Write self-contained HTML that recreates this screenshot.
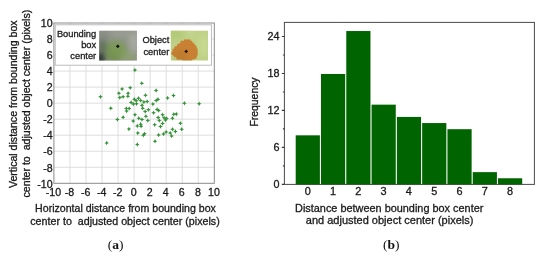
<!DOCTYPE html><html><head><meta charset="utf-8"><title>Figure</title><style>html,body{margin:0;padding:0;background:#fff}svg{display:block}text{font-family:"Liberation Sans",Arial,sans-serif;fill:#1a1a1a;stroke:#1a1a1a;stroke-width:0.3px}.s{font-family:"Liberation Serif","Times New Roman",serif;fill:#111;stroke:none}</style></head><body>
<svg width="550" height="257" viewBox="0 0 550 257">
<defs><filter id="bl" x="-20%" y="-20%" width="140%" height="140%"><feGaussianBlur stdDeviation="3"/></filter><filter id="bl2" x="-50%" y="-50%" width="200%" height="200%"><feGaussianBlur stdDeviation="2.2"/></filter><clipPath id="c1"><rect x="99.2" y="30.8" width="37.7" height="29.7"/></clipPath><clipPath id="c2"><rect x="170.8" y="30.8" width="37.2" height="29.8"/></clipPath>
<path id="m" d="M0,-2.3 L0.75,-0.75 L2.3,0 L0.75,0.75 L0,2.3 L-0.75,0.75 L-2.3,0 L-0.75,-0.75Z"/></defs>
<rect width="550" height="257" fill="#fff"/>
<path d="M69.94,23.0V183.3 M53.9,39.03H214.3 M85.98,23.0V183.3 M53.9,55.06H214.3 M102.02,23.0V183.3 M53.9,71.09H214.3 M118.06,23.0V183.3 M53.9,87.12H214.3 M134.10,23.0V183.3 M53.9,103.15H214.3 M150.14,23.0V183.3 M53.9,119.18H214.3 M166.18,23.0V183.3 M53.9,135.21H214.3 M182.22,23.0V183.3 M53.9,151.24H214.3 M198.26,23.0V183.3 M53.9,167.27H214.3" stroke="#d6d6d6" stroke-width="0.8" fill="none"/>
<rect x="53.9" y="23.0" width="160.40" height="160.30" fill="none" stroke="#8a8a8a" stroke-width="1"/>
<rect x="55.2" y="24.8" width="156.2" height="40.4" fill="#fff" stroke="#b4b4b4" stroke-width="0.9"/>
<g fill="#359239">
<use href="#m" x="134.9" y="70.1"/>
<use href="#m" x="141.8" y="83.3"/>
<use href="#m" x="130.2" y="87.7"/>
<use href="#m" x="122.1" y="89.0"/>
<use href="#m" x="156.1" y="90.4"/>
<use href="#m" x="118.9" y="93.3"/>
<use href="#m" x="128.1" y="93.3"/>
<use href="#m" x="145.5" y="95.2"/>
<use href="#m" x="100.5" y="96.7"/>
<use href="#m" x="119.8" y="97.6"/>
<use href="#m" x="123.1" y="96.7"/>
<use href="#m" x="127.9" y="96.3"/>
<use href="#m" x="134.3" y="99.3"/>
<use href="#m" x="138.5" y="98.3"/>
<use href="#m" x="140.7" y="100.5"/>
<use href="#m" x="136.2" y="100.8"/>
<use href="#m" x="131.1" y="102.4"/>
<use href="#m" x="133.4" y="104.1"/>
<use href="#m" x="136.5" y="103.7"/>
<use href="#m" x="143.9" y="102.1"/>
<use href="#m" x="147.2" y="101.5"/>
<use href="#m" x="156.2" y="100.5"/>
<use href="#m" x="158.0" y="99.3"/>
<use href="#m" x="152.9" y="104.1"/>
<use href="#m" x="142.0" y="105.3"/>
<use href="#m" x="110.8" y="108.2"/>
<use href="#m" x="126.3" y="108.5"/>
<use href="#m" x="129.2" y="108.5"/>
<use href="#m" x="126.6" y="111.1"/>
<use href="#m" x="142.7" y="108.3"/>
<use href="#m" x="148.4" y="109.8"/>
<use href="#m" x="145.2" y="111.5"/>
<use href="#m" x="157.1" y="109.4"/>
<use href="#m" x="158.7" y="110.5"/>
<use href="#m" x="153.6" y="112.7"/>
<use href="#m" x="135.0" y="114.7"/>
<use href="#m" x="123.1" y="117.2"/>
<use href="#m" x="145.9" y="116.3"/>
<use href="#m" x="138.8" y="118.2"/>
<use href="#m" x="117.4" y="119.5"/>
<use href="#m" x="142.0" y="119.5"/>
<use href="#m" x="147.8" y="120.5"/>
<use href="#m" x="133.2" y="121.1"/>
<use href="#m" x="158.1" y="117.5"/>
<use href="#m" x="159.3" y="120.5"/>
<use href="#m" x="140.7" y="124.3"/>
<use href="#m" x="137.3" y="125.9"/>
<use href="#m" x="141.1" y="126.3"/>
<use href="#m" x="154.7" y="124.7"/>
<use href="#m" x="128.9" y="129.1"/>
<use href="#m" x="137.8" y="133.1"/>
<use href="#m" x="144.6" y="133.7"/>
<use href="#m" x="143.3" y="135.3"/>
<use href="#m" x="158.6" y="135.0"/>
<use href="#m" x="106.7" y="143.0"/>
<use href="#m" x="137.3" y="144.5"/>
<use href="#m" x="155.0" y="141.3"/>
<use href="#m" x="173.5" y="95.5"/>
<use href="#m" x="167.6" y="98.0"/>
<use href="#m" x="184.4" y="103.2"/>
<use href="#m" x="199.2" y="103.7"/>
<use href="#m" x="162.6" y="114.7"/>
<use href="#m" x="173.8" y="114.3"/>
<use href="#m" x="176.3" y="114.1"/>
<use href="#m" x="164.1" y="117.8"/>
<use href="#m" x="166.7" y="118.4"/>
<use href="#m" x="172.5" y="118.2"/>
<use href="#m" x="165.4" y="120.0"/>
<use href="#m" x="180.4" y="123.3"/>
<use href="#m" x="162.6" y="123.4"/>
<use href="#m" x="160.5" y="126.5"/>
<use href="#m" x="172.5" y="129.2"/>
<use href="#m" x="181.7" y="129.2"/>
<use href="#m" x="175.4" y="131.4"/>
<use href="#m" x="166.1" y="132.1"/>
<use href="#m" x="170.2" y="133.0"/>
<use href="#m" x="163.5" y="134.0"/>
<use href="#m" x="171.6" y="135.9"/>
</g>
<g clip-path="url(#c1)"><rect x="95" y="27" width="46" height="38" fill="#8f9389"/><g filter="url(#bl)"><ellipse cx="116" cy="49.5" rx="11" ry="9" fill="#7b9957"/><ellipse cx="113" cy="58" rx="9" ry="4" fill="#6f8f4c"/><ellipse cx="128" cy="57" rx="8" ry="4" fill="#8ca26b"/><ellipse cx="102" cy="47" rx="5" ry="8" fill="#5f6d5a"/><ellipse cx="134" cy="42" rx="5" ry="11" fill="#a8aba2"/><ellipse cx="120" cy="33" rx="11" ry="3" fill="#9ea199"/><ellipse cx="104" cy="35" rx="5" ry="4" fill="#858a82"/></g><g filter="url(#bl2)"><ellipse cx="100.5" cy="58.5" rx="4.5" ry="6" fill="#323e38"/></g></g>
<path d="M117.8,44.8 L118.3,45.8 L119.3,46.3 L118.3,46.8 L117.8,47.8 L117.3,46.8 L116.3,46.3 L117.3,45.8Z" fill="#0a0a0a" stroke="#0a0a0a" stroke-width="0.9" stroke-linejoin="round"/>
<g clip-path="url(#c2)"><rect x="168" y="28" width="44" height="36" fill="#bed086"/><g filter="url(#bl)"><ellipse cx="176" cy="33" rx="9" ry="7" fill="#b2c978"/><ellipse cx="204" cy="45" rx="5" ry="12" fill="#c8d990"/><ellipse cx="190" cy="33" rx="6" ry="3" fill="#c6d894"/></g><g fill="#c98033"><rect x="183.97" y="39.45" width="6.54" height="2.01"/><rect x="180.71" y="40.75" width="11.44" height="2.44"/><rect x="179.62" y="42.50" width="14.16" height="2.01"/><rect x="177.44" y="43.80" width="17.10" height="1.79"/><rect x="176.89" y="44.89" width="19.06" height="2.01"/><rect x="174.71" y="46.20" width="21.79" height="2.12"/><rect x="174.17" y="47.62" width="22.88" height="1.79"/><rect x="172.54" y="48.71" width="25.05" height="3.42"/><rect x="171.99" y="51.43" width="25.60" height="3.42"/><rect x="171.23" y="52.30" width="1.31" height="2.23"/><rect x="173.08" y="54.15" width="24.29" height="1.79"/><rect x="174.17" y="55.24" width="22.88" height="1.79"/><rect x="176.35" y="56.33" width="20.15" height="2.55"/><rect x="176.89" y="58.18" width="17.65" height="1.35"/><rect x="182.34" y="58.84" width="9.80" height="2.01"/></g><g filter="url(#bl)" opacity="0.55"><ellipse cx="181" cy="56" rx="6" ry="4" fill="#a9742a"/></g></g>
<path d="M186.2,49.7 L186.7,50.9 L187.9,51.4 L186.7,51.9 L186.2,53.1 L185.7,51.9 L184.5,51.4 L185.7,50.9Z" fill="#0a0a0a" stroke="#0a0a0a" stroke-width="0.5"/>
<g font-size="9.3" text-anchor="end"><text x="96.2" y="37">Bounding</text><text x="96.2" y="47.9">box</text><text x="96.2" y="58.7">center</text><text x="169.3" y="43.2">Object</text><text x="169.3" y="54.7">center</text></g>
<g font-size="10.6" text-anchor="end">
<text x="52.6" y="27.2">10</text>
<text x="52.6" y="43.2">8</text>
<text x="52.6" y="59.3">6</text>
<text x="52.6" y="75.3">4</text>
<text x="52.6" y="91.3">2</text>
<text x="52.6" y="107.4">0</text>
<text x="52.6" y="123.4">-2</text>
<text x="52.6" y="139.4">-4</text>
<text x="52.6" y="155.4">-6</text>
<text x="52.6" y="171.5">-8</text>
<text x="52.6" y="187.5">-10</text>
</g><g font-size="10.6" text-anchor="middle">
<text x="53.5" y="195.7">-10</text>
<text x="69.5" y="195.7">-8</text>
<text x="85.6" y="195.7">-6</text>
<text x="101.6" y="195.7">-4</text>
<text x="117.7" y="195.7">-2</text>
<text x="133.7" y="195.7">0</text>
<text x="149.7" y="195.7">2</text>
<text x="165.8" y="195.7">4</text>
<text x="181.8" y="195.7">6</text>
<text x="197.9" y="195.7">8</text>
<text x="213.9" y="195.7">10</text>
</g>
<g font-size="10.6" text-anchor="middle"><text x="125.5" y="211.9">Horizontal distance from bounding box</text><text x="125" y="224.7" font-size="10.7" xml:space="preserve">center to  adjusted object center (pixels)</text>
<text transform="translate(16.6,104.2) rotate(-90) scale(1,1.1)">Vertical distance from bounding box</text><text transform="translate(29.8,103.6) rotate(-90) scale(1,1.1)" xml:space="preserve">center to  adjusted object center (pixels)</text></g>
<text class="s" x="115.7" y="249" font-size="13.5" text-anchor="middle">(<tspan font-weight="bold">a</tspan>)</text>
<rect x="284.4" y="22.4" width="250.00" height="162.00" fill="#fff" stroke="#4a4a4a" stroke-width="1"/>
<g fill="#006400">
<rect x="295.70" y="135.32" width="24.19" height="49.08"/>
<rect x="320.99" y="73.97" width="24.19" height="110.43"/>
<rect x="346.28" y="31.03" width="24.19" height="153.38"/>
<rect x="371.57" y="104.65" width="24.19" height="79.75"/>
<rect x="396.86" y="116.92" width="24.19" height="67.48"/>
<rect x="422.15" y="123.05" width="24.19" height="61.35"/>
<rect x="447.44" y="129.19" width="24.19" height="55.21"/>
<rect x="472.73" y="172.13" width="24.19" height="12.27"/>
<rect x="498.02" y="178.27" width="24.19" height="6.13"/>
</g>
<path d="M284.4,184.40h-2.6 M284.4,165.91h-1.5 M284.4,147.41h-2.6 M284.4,128.92h-1.5 M284.4,110.42h-2.6 M284.4,91.93h-1.5 M284.4,73.43h-2.6 M284.4,54.94h-1.5 M284.4,36.44h-2.6" stroke="#3a3a3a" stroke-width="1.1" fill="none"/>
<g font-size="10.8" text-anchor="end">
<text x="279.6" y="188.1">0</text>
<text x="279.6" y="151.1">6</text>
<text x="279.6" y="114.1">12</text>
<text x="279.6" y="77.1">18</text>
<text x="279.6" y="40.1">24</text>
</g><g font-size="10.9" text-anchor="middle">
<text x="307.7" y="194.7">0</text>
<text x="333.0" y="194.7">1</text>
<text x="358.3" y="194.7">2</text>
<text x="383.6" y="194.7">3</text>
<text x="408.9" y="194.7">4</text>
<text x="434.2" y="194.7">5</text>
<text x="459.5" y="194.7">6</text>
<text x="484.8" y="194.7">7</text>
<text x="510.1" y="194.7">8</text>
<text x="389.2" y="211.5">Distance between bounding box center</text><text x="389.6" y="224.4" font-size="11">and adjusted object center (pixels)</text>
<text font-size="10.4" transform="translate(258,102) rotate(-90) scale(1,1.1)">Frequency</text></g>
<text class="s" x="391.2" y="248.7" font-size="13.5" text-anchor="middle">(<tspan font-weight="bold">b</tspan>)</text>
</svg></body></html>
